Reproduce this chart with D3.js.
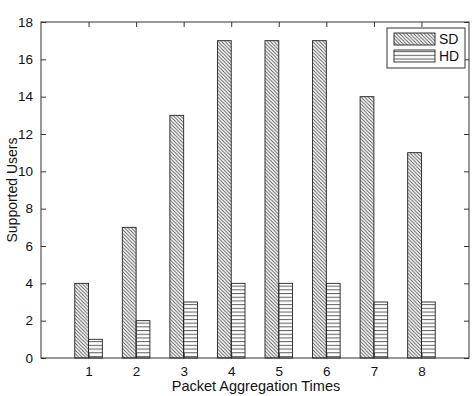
<!DOCTYPE html>
<html>
<head>
<meta charset="utf-8">
<script src="https://cdn.jsdelivr.net/npm/d3@7"></script>
<style>
  body { margin: 0; background: #fff; }
  text { font-family: 'Liberation Sans', Arial, sans-serif; fill: #111; }
</style>
</head>
<body>
<svg id="grafico"></svg>
<script>
// dados
const categorias = [1, 2, 3, 4, 5, 6, 7, 8];
const valoresSD = [4, 7, 13, 17, 17, 17, 14, 11];
const valoresHD = [1, 2, 3, 4, 4, 4, 3, 3];
const series = ['SD', 'HD'];
const ticksY = [0, 2, 4, 6, 8, 10, 12, 14, 16, 18];

let largura = 474, altura = 396;
let margem = { esquerda: 41, direita: 5, superior: 22, inferior: 38 };
let larguraPlotagem = largura - margem.esquerda - margem.direita;
let alturaPlotagem = altura - margem.superior - margem.inferior;

let svg = d3.select('#grafico')
    .attr('width', largura)
    .attr('height', altura);

// hachuras
let defs = svg.append('defs');
defs.append('pattern')
    .attr('id', 'hachuraSD')
    .attr('patternUnits', 'userSpaceOnUse')
    .attr('width', 3.5).attr('height', 3.5)
    .append('path')
    .attr('d', 'M-1,-1 L4.5,4.5 M-1,2.5 L1,4.5 M2.5,-1 L4.5,1')
    .attr('stroke', '#555').attr('stroke-width', 0.9);
defs.append('pattern')
    .attr('id', 'hachuraHD')
    .attr('patternUnits', 'userSpaceOnUse')
    .attr('width', 8).attr('height', 3.7)
    .append('path')
    .attr('d', 'M0,1.5 L8,1.5')
    .attr('stroke', '#444').attr('stroke-width', 0.9);

let plotagem = svg.append('g')
    .attr('transform', 'translate(' + margem.esquerda + ',' + margem.superior + ')');

let fnX = d3.scaleLinear().domain([0, 9]).range([0, larguraPlotagem]);
let fnY = d3.scaleLinear().domain([0, 18]).range([alturaPlotagem, 0]);

let larguraBarra = fnX(0.29) - fnX(0);
let dados = categorias.map((c, i) => ({ chave: c, SD: valoresSD[i], HD: valoresHD[i] }));

series.forEach((s, k) => {
    plotagem.selectAll('.barra' + s)
        .data(dados)
        .enter()
        .append('rect')
        .attr('class', 'barra' + s)
        .attr('x', (d) => fnX(d.chave) - larguraBarra + k * larguraBarra)
        .attr('y', (d) => fnY(d[s]))
        .attr('width', larguraBarra)
        .attr('height', (d) => alturaPlotagem - fnY(d[s]))
        .attr('fill', 'url(#hachura' + s + ')')
        .attr('stroke', '#222')
        .attr('stroke-width', 0.9);
});

// eixos estilo matlab: caixa e ticks para dentro
let eixoX = d3.axisBottom(fnX).tickValues(categorias).tickSizeInner(-5).tickSizeOuter(0).tickPadding(8);
let eixoY = d3.axisLeft(fnY).tickValues(ticksY).tickSizeInner(-5).tickSizeOuter(0).tickPadding(8);
let eixoXTopo = d3.axisTop(fnX).tickValues(categorias).tickSizeInner(-5).tickSizeOuter(0).tickFormat('');
let eixoYDir = d3.axisRight(fnY).tickValues(ticksY).tickSizeInner(-5).tickSizeOuter(0).tickFormat('');

plotagem.append('g').attr('transform', 'translate(0,' + alturaPlotagem + ')').call(eixoX);
plotagem.append('g').call(eixoY);
plotagem.append('g').call(eixoXTopo);
plotagem.append('g').attr('transform', 'translate(' + larguraPlotagem + ',0)').call(eixoYDir);

plotagem.selectAll('.domain').remove();
plotagem.selectAll('.tick line').attr('stroke', '#333');
plotagem.selectAll('.tick text').style('font-size', '13.5px').attr('fill', '#111');

plotagem.append('rect')
    .attr('width', larguraPlotagem)
    .attr('height', alturaPlotagem)
    .attr('fill', 'none')
    .attr('stroke', '#333')
    .attr('stroke-width', 1);

// titulos
svg.append('text')
    .attr('x', margem.esquerda + larguraPlotagem / 2 + 1)
    .attr('y', 391)
    .style('text-anchor', 'middle')
    .style('font-size', '14.5px')
    .text('Packet Aggregation Times');
svg.append('text')
    .style('text-anchor', 'middle')
    .style('font-size', '14px')
    .attr('transform', 'translate(17,' + (margem.superior + alturaPlotagem / 2) + ') rotate(-90)')
    .text('Supported Users');

// legenda
let legenda = svg.append('g').attr('transform', 'translate(387,28)');
legenda.append('rect')
    .attr('width', 78).attr('height', 40)
    .attr('fill', '#fff').attr('stroke', '#333');
series.forEach((s, k) => {
    legenda.append('rect')
        .attr('x', 7).attr('y', 5 + k * 17)
        .attr('width', 41).attr('height', 12)
        .attr('fill', 'url(#hachura' + s + ')')
        .attr('stroke', '#222').attr('stroke-width', 0.9);
    legenda.append('text')
        .attr('x', 52).attr('y', 16 + k * 17)
        .style('font-size', '14px')
        .text(s);
});
</script>
</body>
</html>
